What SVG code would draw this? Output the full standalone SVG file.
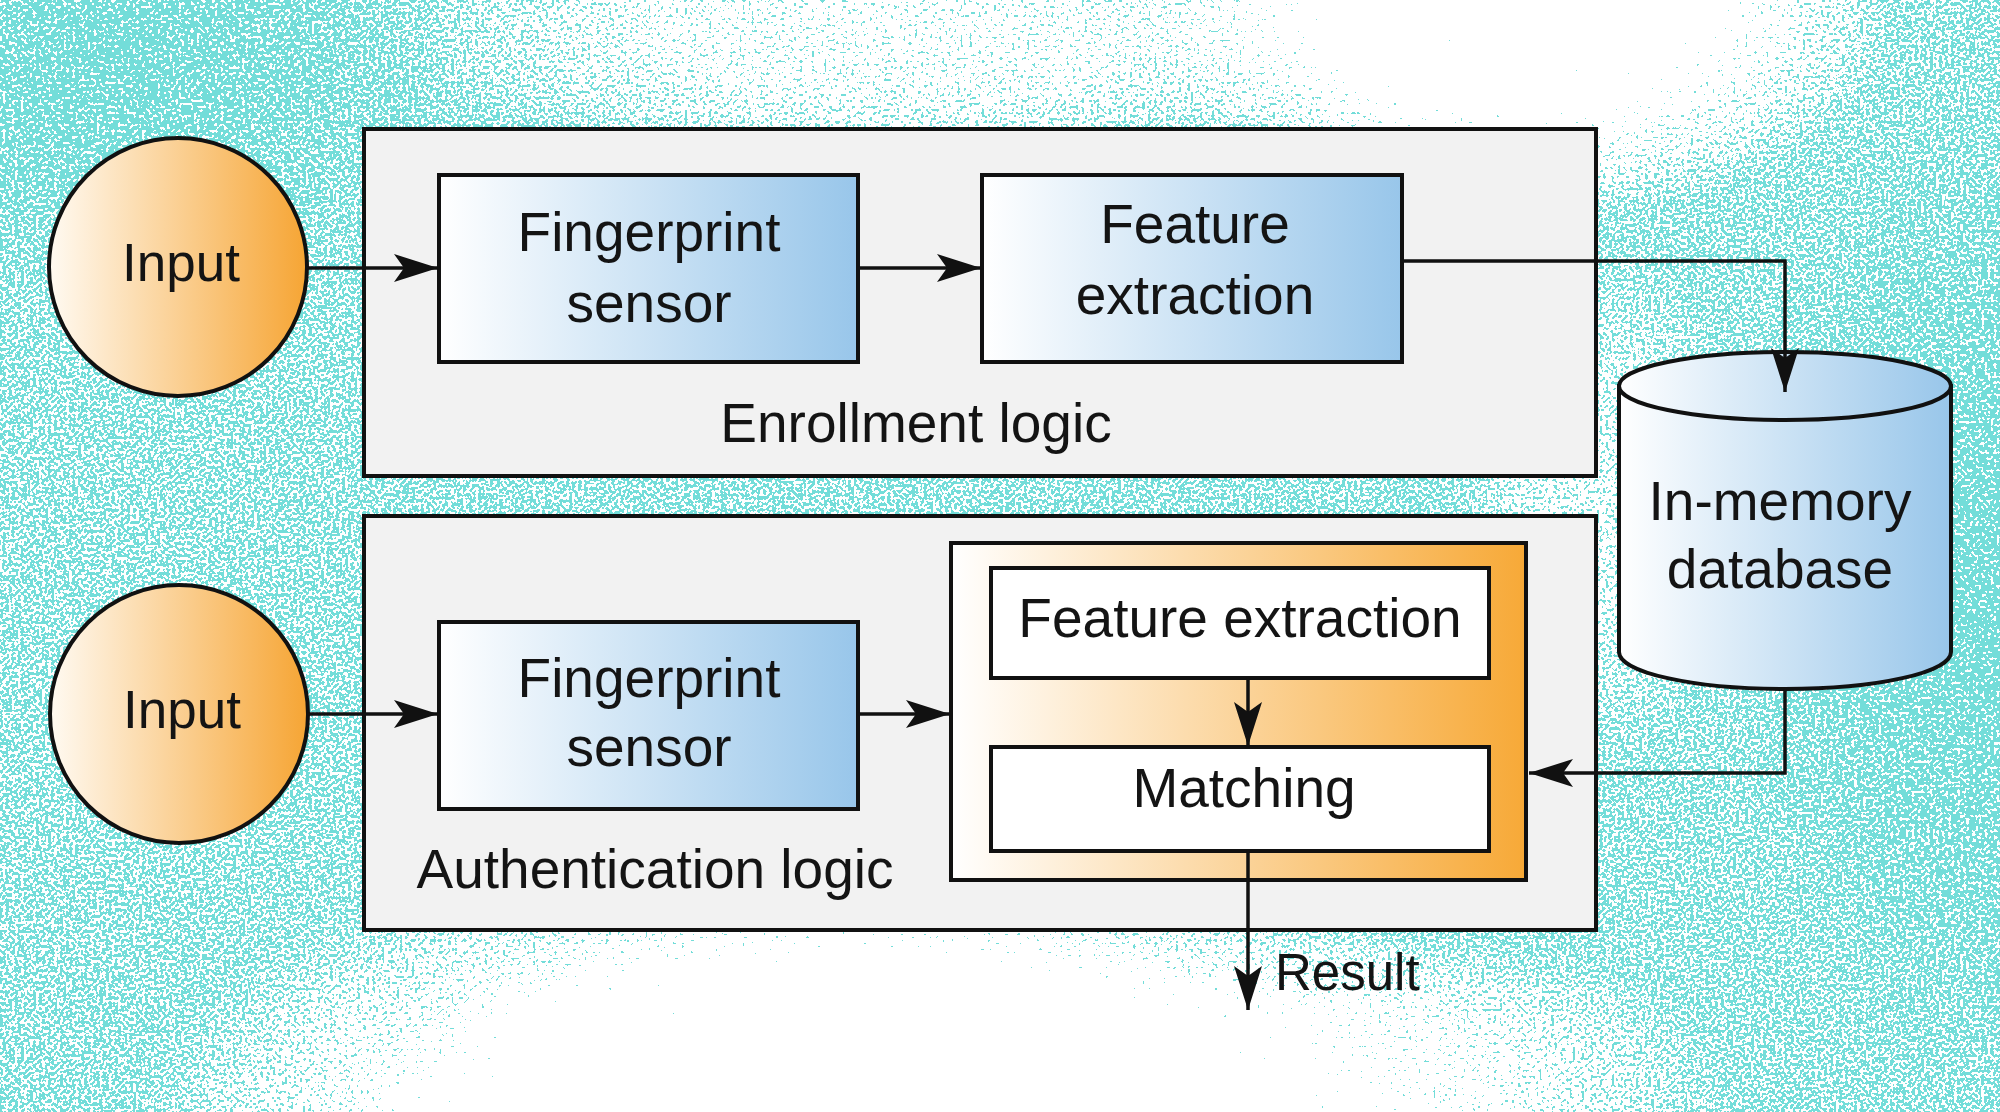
<svg xmlns="http://www.w3.org/2000/svg" width="2000" height="1112" viewBox="0 0 2000 1112">
  <defs>
    <style>
      .lbl { font-family: "Liberation Sans", Arial, sans-serif; font-size: 55px; fill: #141414; text-anchor: middle; }
      .grp { fill: #f2f2f2; stroke: #111; stroke-width: 4; }
      .blue { fill: url(#gBlue); stroke: #111; stroke-width: 4; }
      .white { fill: #ffffff; stroke: #111; stroke-width: 4; }
      .conn { fill: none; stroke: #111; stroke-width: 3.5; }
    </style>
    <linearGradient id="gBlue" x1="0" y1="0" x2="1" y2="0">
      <stop offset="0" stop-color="#ffffff"/>
      <stop offset="1" stop-color="#98c6ea"/>
    </linearGradient>
    <linearGradient id="gOrange" x1="0" y1="0" x2="1" y2="0">
      <stop offset="0" stop-color="#fffaf2"/>
      <stop offset="1" stop-color="#f6a534"/>
    </linearGradient>
    <linearGradient id="gOrangeBox" x1="0" y1="0" x2="1" y2="0">
      <stop offset="0" stop-color="#ffffff"/>
      <stop offset="0.05" stop-color="#fffbf5"/>
      <stop offset="1" stop-color="#f7a937"/>
    </linearGradient>
    <radialGradient id="fade" cx="0.5" cy="0.5" r="0.5">
      <stop offset="0" stop-color="#ffffff" stop-opacity="1"/>
      <stop offset="0.45" stop-color="#ffffff" stop-opacity="0.9"/>
      <stop offset="1" stop-color="#ffffff" stop-opacity="0"/>
    </radialGradient>
    <radialGradient id="fadeStrong" cx="0.5" cy="0.5" r="0.5">
      <stop offset="0" stop-color="#ffffff" stop-opacity="1"/>
      <stop offset="0.6" stop-color="#ffffff" stop-opacity="1"/>
      <stop offset="1" stop-color="#ffffff" stop-opacity="0"/>
    </radialGradient>
    <radialGradient id="dark" cx="0.5" cy="0.5" r="0.5">
      <stop offset="0" stop-color="#000000" stop-opacity="0.3"/>
      <stop offset="1" stop-color="#000000" stop-opacity="0"/>
    </radialGradient>
    <filter id="stipple" x="0" y="0" width="2000" height="1112" filterUnits="userSpaceOnUse" color-interpolation-filters="sRGB">
      <feTurbulence type="fractalNoise" baseFrequency="0.33" numOctaves="1" seed="11" result="raw"/>
      <feColorMatrix in="raw" type="matrix" values="1 0 0 0 0  1 0 0 0 0  1 0 0 0 0  0 0 0 0 1" result="n"/>
      <feComposite in="SourceGraphic" in2="n" operator="arithmetic" k1="0" k2="2" k3="3" k4="-2" result="v"/>
      <feColorMatrix in="v" type="matrix" values="0 0 0 0 0.45  0 0 0 0 0.866  0 0 0 0 0.85  -1 0 0 0 1"/>
      <feComponentTransfer>
        <feFuncA type="discrete" tableValues="0 1"/>
      </feComponentTransfer>
    </filter>
    <marker id="arr" markerUnits="userSpaceOnUse" markerWidth="50" markerHeight="34" refX="46" refY="16" orient="auto">
      <path d="M46,16 L2,2 L12,16 L2,30 Z" fill="#111"/>
    </marker>
  </defs>

  <!-- background -->
  <rect x="0" y="0" width="2000" height="1112" fill="#ffffff"/>
  <g id="background" filter="url(#stipple)">
    <rect x="0" y="0" width="2000" height="1112" fill="#7a7a7a"/>
    <ellipse cx="120" cy="60" rx="350" ry="250" fill="url(#dark)"/>
    <ellipse cx="1980" cy="600" rx="250" ry="500" fill="url(#dark)"/>
    <ellipse cx="850" cy="1150" rx="720" ry="330" fill="url(#fade)"/>
    <ellipse cx="870" cy="1140" rx="520" ry="230" fill="url(#fadeStrong)"/>
    <ellipse cx="1520" cy="10" rx="380" ry="210" fill="url(#fade)"/>
    <ellipse cx="1500" cy="0" rx="200" ry="110" fill="url(#fadeStrong)"/>
    <ellipse cx="900" cy="30" rx="520" ry="140" fill="url(#fade)" opacity="0.5"/>
    <ellipse cx="1350" cy="1080" rx="380" ry="150" fill="url(#fade)" opacity="0.5"/>
    <ellipse cx="1600" cy="500" rx="150" ry="250" fill="url(#fade)" opacity="0.3"/>
  </g>

  <!-- group boxes -->
  <g id="enrollment-logic">
    <rect class="grp" x="364" y="129" width="1232" height="347"/>
    <text class="lbl" x="916" y="442">Enrollment logic</text>
  </g>
  <g id="authentication-logic">
    <rect class="grp" x="364" y="516" width="1232" height="414"/>
    <text class="lbl" x="655" y="888">Authentication logic</text>
  </g>

  <!-- nodes -->
  <g id="input-top">
    <circle cx="178" cy="267" r="129" fill="url(#gOrange)" stroke="#111" stroke-width="4"/>
    <text class="lbl" x="181" y="281" style="font-size:53px">Input</text>
  </g>
  <g id="input-bottom">
    <circle cx="179" cy="714" r="129" fill="url(#gOrange)" stroke="#111" stroke-width="4"/>
    <text class="lbl" x="182" y="728" style="font-size:53px">Input</text>
  </g>
  <g id="sensor-top">
    <rect class="blue" x="439" y="175" width="419" height="187"/>
    <text class="lbl" x="649" y="251">Fingerprint</text>
    <text class="lbl" x="649" y="322">sensor</text>
  </g>
  <g id="feature-top">
    <rect class="blue" x="982" y="175" width="420" height="187"/>
    <text class="lbl" x="1195" y="243">Feature</text>
    <text class="lbl" x="1195" y="314">extraction</text>
  </g>
  <g id="sensor-bottom">
    <rect class="blue" x="439" y="622" width="419" height="187"/>
    <text class="lbl" x="649" y="697">Fingerprint</text>
    <text class="lbl" x="649" y="766">sensor</text>
  </g>
  <g id="matcher">
    <rect x="951" y="543" width="575" height="337" fill="url(#gOrangeBox)" stroke="#111" stroke-width="4"/>
  </g>
  <g id="feature-bottom">
    <rect class="white" x="991" y="568" width="498" height="110"/>
    <text class="lbl" x="1240" y="637">Feature extraction</text>
  </g>
  <g id="matching">
    <rect class="white" x="991" y="747" width="498" height="104"/>
    <text class="lbl" x="1244" y="807">Matching</text>
  </g>
  <g id="database">
    <path d="M1619,386 V652 A166,37 0 0 0 1951,652 V386 Z" fill="url(#gBlue)" stroke="#111" stroke-width="4"/>
    <ellipse cx="1785" cy="386" rx="166" ry="34" fill="url(#gBlue)" stroke="#111" stroke-width="4"/>
    <text class="lbl" x="1780" y="520">In-memory</text>
    <text class="lbl" x="1780" y="588">database</text>
  </g>
  <g id="result-label">
    <text class="lbl" x="1275" y="990" style="text-anchor:start;font-size:51px">Result</text>
  </g>

  <!-- connectors -->
  <g id="connectors">
    <path class="conn" d="M307,268 H438" marker-end="url(#arr)"/>
    <path class="conn" d="M858,268 H981" marker-end="url(#arr)"/>
    <path class="conn" d="M1402,261 H1785 V392" marker-end="url(#arr)"/>
    <path class="conn" d="M308,714 H438" marker-end="url(#arr)"/>
    <path class="conn" d="M858,714 H950" marker-end="url(#arr)"/>
    <path class="conn" d="M1785,689 V773 H1529" marker-end="url(#arr)"/>
    <path class="conn" d="M1248,678 V746" marker-end="url(#arr)"/>
    <path class="conn" d="M1248,851 V1010" marker-end="url(#arr)"/>
  </g>
</svg>
